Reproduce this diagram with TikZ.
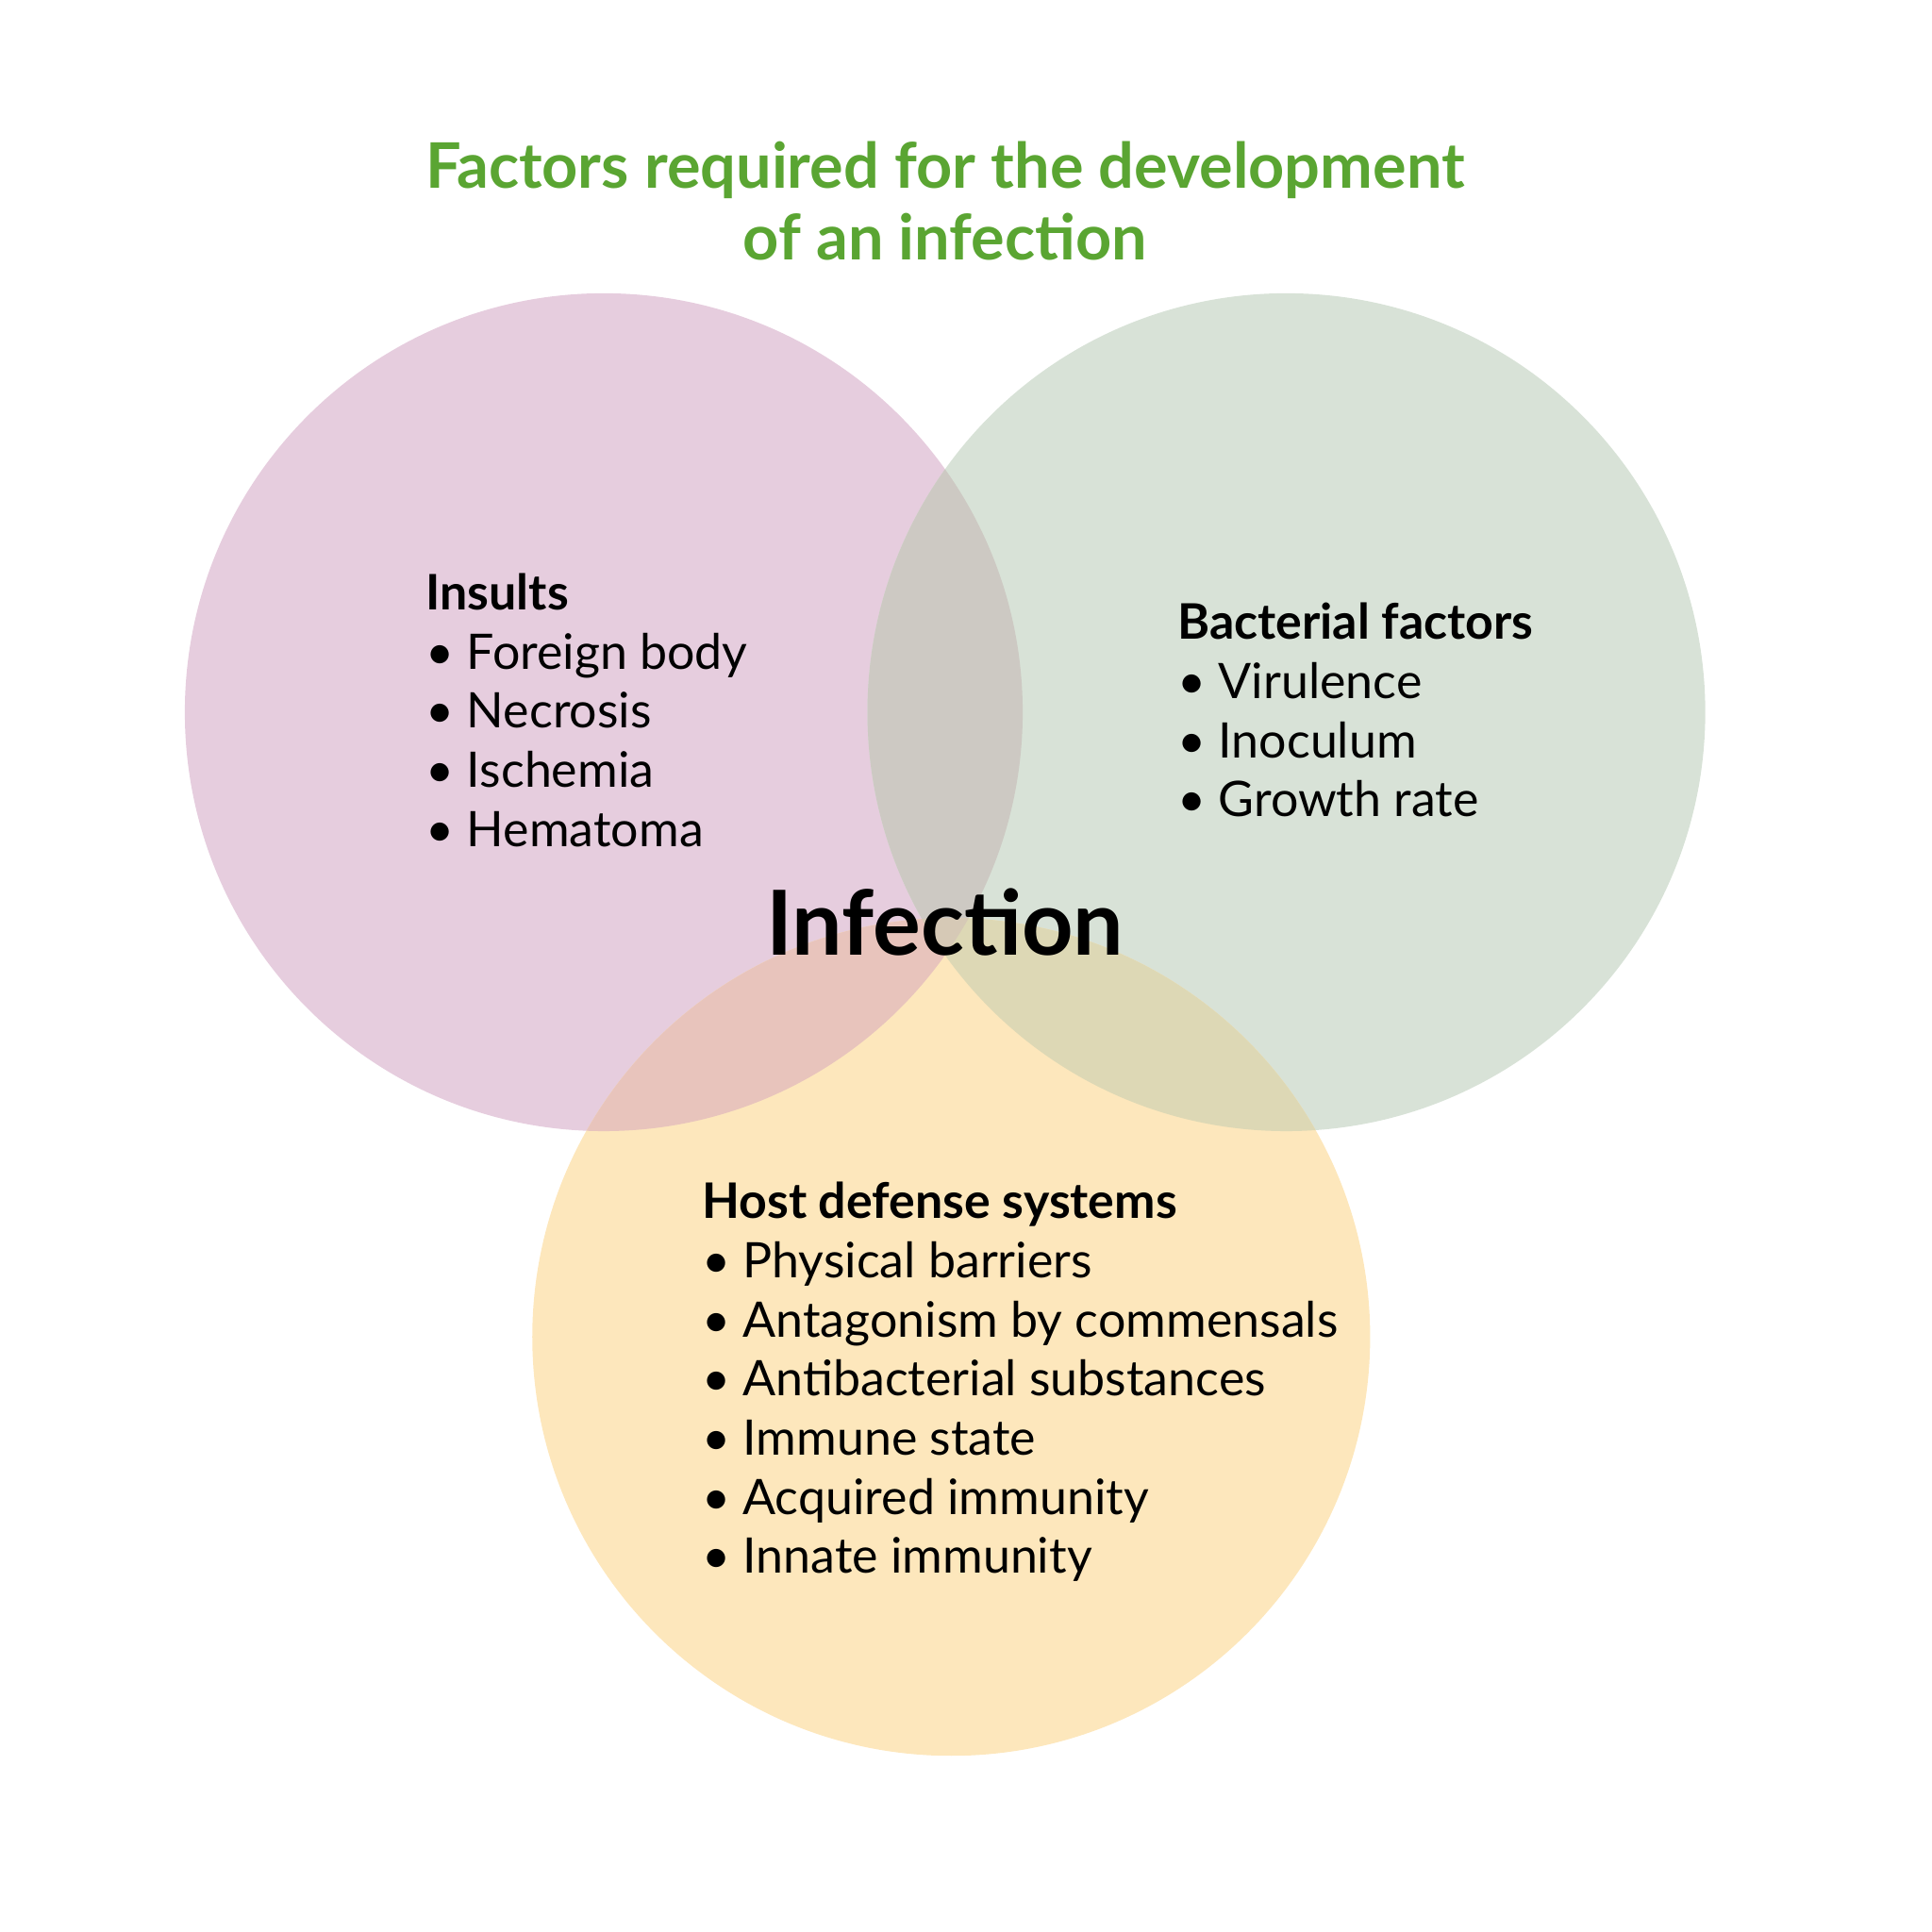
\documentclass[tikz,border=0pt]{standalone}
\usepackage{fontspec}
\setmainfont{Lato}
\definecolor{cpink}{HTML}{E6CDDE}
\definecolor{cgreen}{HTML}{D8E2D7}
\definecolor{cyell}{HTML}{FDE7BC}
\definecolor{cpg}{HTML}{CDC9C3}
\definecolor{cpy}{HTML}{E8C4BC}
\definecolor{cgy}{HTML}{DDD8B5}
\definecolor{call}{HTML}{D6C9B6}
\definecolor{ctitle}{HTML}{5AA532}
\begin{document}
\begin{tikzpicture}[x=0.01cm,y=-0.01cm,
  lst/.style={anchor=base west,align=left,font=\fontsize{11.3}{13.65}\selectfont,inner sep=0pt},
  ttl/.style={font=\fontsize{14.5}{16.5}\selectfont\bfseries,text=ctitle,align=center,inner sep=0pt}]
\useasboundingbox (0,0) rectangle (1568,1568);
\fill[cpink] (490,578) circle (340);
\fill[cgreen] (1044,578) circle (340);
\fill[cyell] (772,1085) circle (340);
\begin{scope}\clip (490,578) circle (340); \fill[cpg] (1044,578) circle (340);\end{scope}
\begin{scope}\clip (490,578) circle (340); \fill[cpy] (772,1085) circle (340);\end{scope}
\begin{scope}\clip (1044,578) circle (340); \fill[cgy] (772,1085) circle (340);\end{scope}
\begin{scope}\clip (490,578) circle (340); \clip (1044,578) circle (340); \fill[call] (772,1085) circle (340);\end{scope}
\node[ttl,anchor=base] (t) at (767,211) {Factors required for the development\\of an infection};
\node[lst] (a) at (345,687) {\textbf{Insults}\\• Foreign body\\• Necrosis\\• Ischemia\\• Hematoma};
\node[lst] (b) at (955,663) {\textbf{Bacterial factors}\\• Virulence\\• Inoculum\\• Growth rate};
\node[lst] (c) at (569,1277) {\textbf{Host defense systems}\\• Physical barriers\\• Antagonism by commensals\\• Antibacterial substances\\• Immune state\\• Acquired immunity\\• Innate immunity};
\node[anchor=base,font=\fontsize{20.7}{24}\selectfont\bfseries,inner sep=0pt] (i) at (767,775) {Infection};
\end{tikzpicture}
\end{document}
